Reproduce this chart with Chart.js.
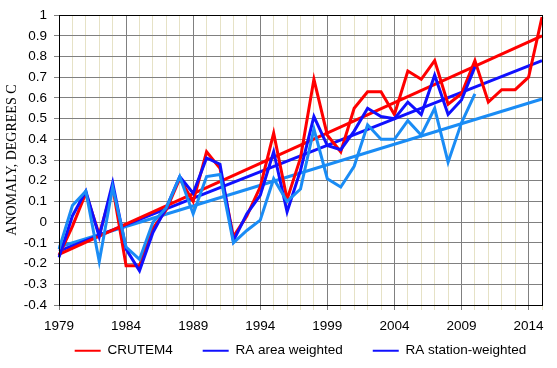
<!DOCTYPE html>
<html>
<head>
<meta charset="utf-8">
<script src="https://cdn.jsdelivr.net/npm/chart.js@4/dist/chart.umd.min.js"></script>
<style>
  html, body { margin: 0; padding: 0; background: #fff; }
  #wrap { width: 557px; height: 368px; }
</style>
</head>
<body>
<div id="wrap"><canvas id="chart"></canvas></div>
<script>
const years = [];
for (let y = 1979; y <= 2015; y++) years.push(String(y));

const crutem4 = [-0.16, -0.02, 0.14, -0.06, 0.17, -0.21, -0.21, -0.03, 0.06, 0.21,
  0.10, 0.34, 0.26, -0.07, 0.03, 0.17, 0.43, 0.11, 0.31, 0.69,
  0.42, 0.34, 0.55, 0.63, 0.63, 0.52, 0.73, 0.69, 0.78, 0.57,
  0.62, 0.78, 0.58, 0.64, 0.64, 0.70, 0.99];

const raArea = [-0.17, 0.03, 0.15, -0.07, 0.19, -0.13, -0.235, -0.05, 0.07, 0.22,
  0.14, 0.31, 0.28, -0.09, 0.04, 0.13, 0.34, 0.05, 0.25, 0.51,
  0.37, 0.35, 0.44, 0.55, 0.51, 0.50, 0.58, 0.52, 0.71, 0.52,
  0.59, 0.75];

const raStation = [-0.13, 0.08, 0.15, -0.19, 0.17, -0.12, -0.18, 0.0, 0.07, 0.22,
  0.04, 0.22, 0.23, -0.10, -0.04, 0.01, 0.21, 0.10, 0.16, 0.45,
  0.21, 0.17, 0.27, 0.47, 0.40, 0.40, 0.49, 0.42, 0.55, 0.29,
  0.48, 0.62];

// trend line end points (1979, 2015)
const trendCrutem = [-0.155, 0.90];
const trendArea = [-0.14, 0.78];
const trendStation = [-0.12, 0.595];

const yTicks = [-0.4, -0.3, -0.2, -0.1, 0, 0.1, 0.2, 0.3, 0.4, 0.5, 0.6, 0.7, 0.8, 0.9, 1];

function trendSeries(ends) {
  const arr = years.map(() => null);
  arr[0] = ends[0];
  arr[arr.length - 1] = ends[1];
  return arr;
}

const RED = '#ff0000';
const BLUE = '#1010ff';
const LIGHT = '#1a8cf5';

// box round the plot area
const frame = {
  id: 'frame',
  afterDraw(chart) {
    const { ctx, chartArea: a } = chart;
    ctx.save();
    ctx.strokeStyle = '#000';
    ctx.lineWidth = 1;
    ctx.strokeRect(Math.round(a.left) + 0.5, Math.round(a.top) + 0.5,
      Math.round(a.right - a.left), Math.round(a.bottom - a.top));
    ctx.restore();
  }
};

// one legend row, centred under the plot area
const legendFit = {
  id: 'legendFit',
  beforeLayout(chart) {
    const lg = chart.legend;
    if (!lg || lg._patched) return;
    const orig = lg.update;
    lg.update = function (w, h, m) {
      orig.call(this, w + 200, h, m);
      this.height = 33;
    };
    lg._patched = true;
  },
  afterLayout(chart) {
    const lg = chart.legend;
    const a = chart.chartArea;
    lg.left = a.left - 60;
    lg.right = a.right + 60;
    lg.width = lg.right - lg.left;
    lg.top = a.bottom + 9;
    lg.bottom = chart.height;
    lg.height = lg.bottom - lg.top;
  }
};

const baseFont = { family: 'Liberation Sans, Arial, sans-serif', size: 13.5 };

new Chart(document.getElementById('chart'), {
  type: 'line',
  data: {
    labels: years,
    datasets: [
      { label: 'CRUTEM4', data: crutem4, borderColor: RED, order: 2 },
      { label: 'RA area weighted', data: raArea, borderColor: BLUE, order: 1 },
      { label: 'RA station-weighted', data: raStation, borderColor: LIGHT, legendColor: BLUE, order: 0 },
      { label: 'trend1', data: trendSeries(trendCrutem), borderColor: RED, spanGaps: true, trend: true, order: 3 },
      { label: 'trend2', data: trendSeries(trendArea), borderColor: BLUE, spanGaps: true, trend: true, order: 3 },
      { label: 'trend3', data: trendSeries(trendStation), borderColor: LIGHT, spanGaps: true, trend: true, order: 3 }
    ]
  },
  options: {
    responsive: true,
    maintainAspectRatio: false,
    animation: false,
    devicePixelRatio: 1,
    layout: { padding: { top: 9, right: 15, left: 0, bottom: 0 } },
    elements: {
      line: { borderWidth: 3, tension: 0, fill: false },
      point: { radius: 0, hoverRadius: 0 }
    },
    scales: {
      x: {
        type: 'category',
        offset: false,
        afterFit: s => { s.height = 30; },
        grid: {
          color: c => (c.index % 5 === 0 ? '#808080' : '#e6e2c6'),
          lineWidth: 1,
          tickLength: 5
        },
        border: { color: '#000', width: 1 },
        ticks: {
          autoSkip: false,
          maxRotation: 0,
          padding: 8,
          color: '#000',
          font: baseFont,
          callback: (v, i) => (i % 5 === 0 ? years[i] : '')
        }
      },
      y: {
        min: -0.4,
        max: 1,
        afterFit: s => { s.width = 59; },
        afterBuildTicks: s => { s.ticks = yTicks.map(v => ({ value: v })); },
        grid: { color: '#808080', lineWidth: 1, tickLength: 5 },
        border: { color: '#000', width: 1 },
        ticks: {
          autoSkip: false,
          padding: 7,
          color: '#000',
          font: baseFont,
          callback: v => String(Number(v.toFixed(1)))
        },
        title: {
          display: true,
          text: 'ANOMALY, DEGREES C',
          color: '#000',
          font: { family: 'Liberation Serif, Times New Roman, serif', size: 14 },
          padding: { top: 4, bottom: 0 }
        }
      }
    },
    plugins: {
      tooltip: { enabled: false },
      legend: {
        position: 'bottom',
        fullSize: false,
        labels: {
          boxWidth: 26,
          boxHeight: 2,
          padding: 30,
          color: '#000',
          font: baseFont,
          generateLabels: chart => chart.data.datasets
            .map((d, i) => ({ d, i }))
            .filter(o => !o.d.trend)
            .map(o => ({
              text: o.d.label,
              fillStyle: o.d.legendColor || o.d.borderColor,
              strokeStyle: o.d.legendColor || o.d.borderColor,
              lineWidth: 0,
              fontColor: '#000',
              datasetIndex: o.i
            }))
        }
      }
    }
  },
  plugins: [frame, legendFit]
});
</script>
</body>
</html>
